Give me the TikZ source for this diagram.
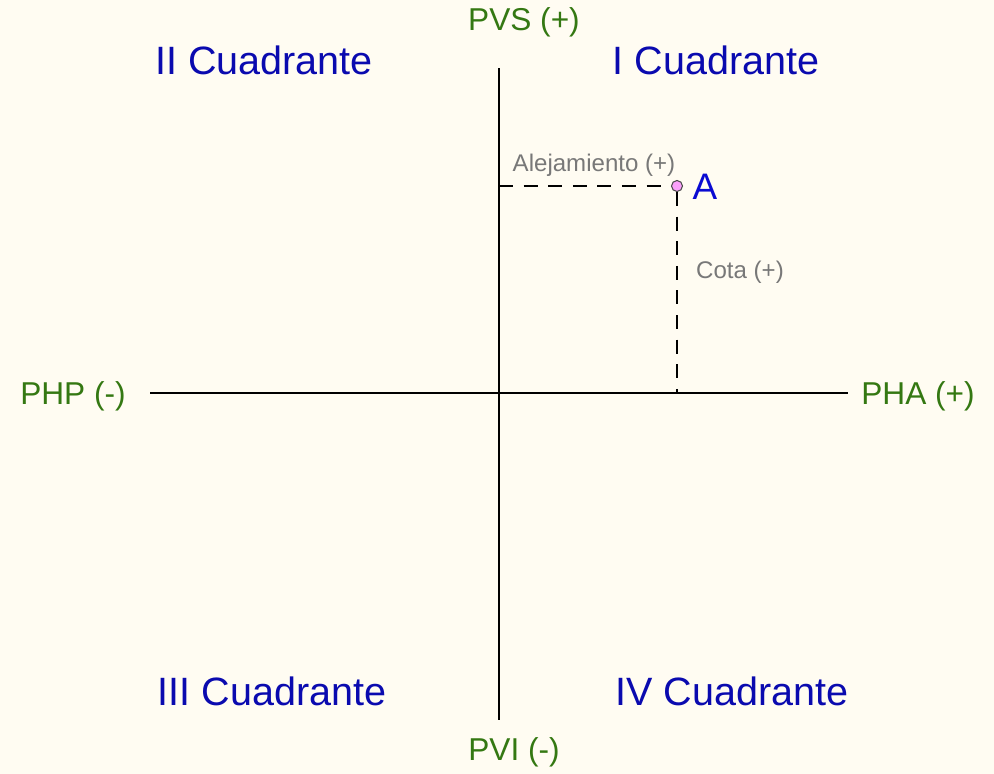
\documentclass[tikz,border=0pt]{standalone}
\usepackage{fontspec}
\setmainfont{Liberation Sans}
\usepackage{tikz}

\definecolor{fondo}{RGB}{255,252,242}
\definecolor{verde}{RGB}{52,120,18}
\definecolor{azul}{RGB}{10,10,175}
\definecolor{azulA}{RGB}{10,10,210}
\definecolor{gris}{RGB}{120,120,120}
\definecolor{rosa}{RGB}{250,160,250}

\begin{document}
\begin{tikzpicture}[x=0.02cm, y=-0.02cm,
		plano/.style={text=verde, font=\fontsize{18}{20}\selectfont},
		cuadrante/.style={text=azul, font=\fontsize{22.5}{25}\selectfont},
		medida/.style={text=gris, font=\fontsize{13.7}{15}\selectfont},
		eje/.style={line width = 0.85pt},
		proyeccion/.style={line width = 0.7pt, dash pattern=on 8pt off 6pt}
	]

	\fill[fondo] (0,0) rectangle (994,774);
	\useasboundingbox (0,0) rectangle (994,774);

	% extremos de los ejes
	\coordinate (izq) at (150,393);
	\coordinate (der) at (848,393);
	\coordinate (arriba) at (499,68);
	\coordinate (abajo) at (499,720);
	\coordinate (origen) at (499,393);

	\draw[eje] (izq) -- (der);
	\draw[eje] (arriba) -- (abajo);

	\node[plano] (pvs) at (524,22) {PVS (+)};
	\node[plano] (pvi) at (514,752) {PVI (-)};
	\node[plano] (php) at (73,396) {PHP (-)};
	\node[plano] (pha) at (918,396) {PHA (+)};

	\node[cuadrante] (q2) at (264,60) {II Cuadrante};
	\node[cuadrante] (q1) at (716,60) {I Cuadrante};
	\node[cuadrante] (q3) at (272,691) {III Cuadrante};
	\node[cuadrante] (q4) at (732,691) {IV Cuadrante};

	% punto A y sus proyecciones
	\coordinate (alej) at (499,186);
	\coordinate (pie) at (677,393);
	\node[circle, draw=black!70, fill=rosa, inner sep=0pt, minimum size=0.22cm, line width=0.6pt] (A) at (677,186) {};
	\node[text=azulA, font=\fontsize{21}{22}\selectfont] (etqA) at (705,187) {A};

	\draw[proyeccion] (alej) -- (A.west);
	\draw[proyeccion] (A.south) -- (pie);

	\node[medida] (alejamiento) at (594,165) {Alejamiento (+)};
	\node[medida] (cota) at (740,272) {Cota (+)};

\end{tikzpicture}
\end{document}
